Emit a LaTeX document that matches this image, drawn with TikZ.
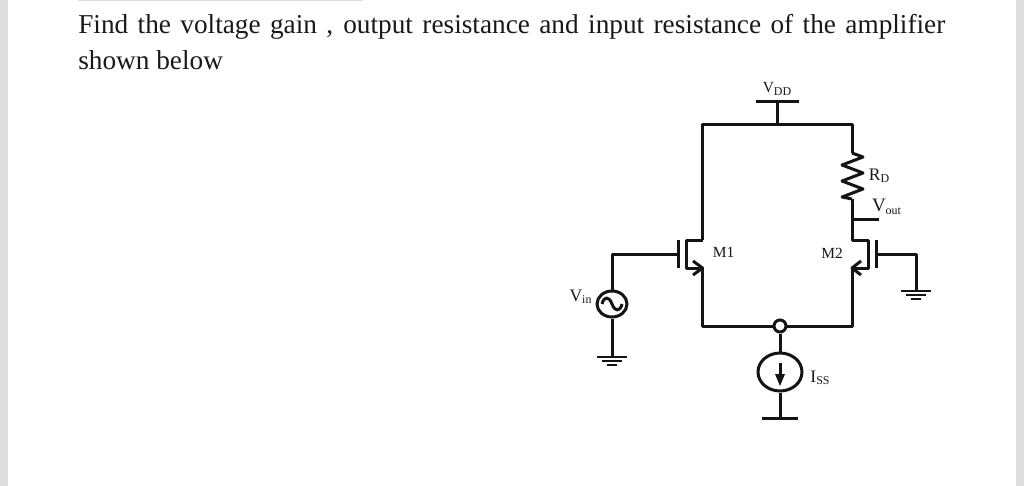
\documentclass[tikz,border=0pt]{standalone}
\usepackage{xcolor}
\usepackage{fontspec}
\setmainfont{Liberation Serif}
\usetikzlibrary{shapes.geometric}
\definecolor{AmpWire}{RGB}{20, 20, 20}
\definecolor{AmpText}{RGB}{25, 25, 25}
\definecolor{AmpEdge}{RGB}{222, 222, 222}
\newcommand{\sublabel}[2]{#1\raisebox{-0.3ex}{\fontsize{8.5}{10}\selectfont #2}}
\tikzset{
    wire/.style={draw=AmpWire, line width=0.75mm, line join=round},
    thinbar/.style={draw=AmpWire, line width=0.55mm},
    source/.style={ellipse, draw=AmpWire, line width=0.75mm, fill=white, inner sep=0pt,
        minimum width=#1},
    lbl/.style={text=AmpText, inner sep=0pt, font=\fontsize{12.5}{14}\selectfont},
}

\begin{document}
\begin{tikzpicture}[x=0.25mm, y=-0.25mm]
    \useasboundingbox (0,0) rectangle (1024,486);

    % Page edges
    \fill[AmpEdge] (0,0) rectangle (8,486);
    \fill[AmpEdge] (1016,0) rectangle (1024,486);
    \draw[AmpEdge, line width=0.3mm] (78,0.5) -- (363,0.5);

    % Question text
    \node[anchor=north west, inner sep=0pt, text=AmpText, text width=216.75mm, align=justify,
        font=\fontsize{19.4}{25.6}\selectfont] (question) at (78,14)
        {Find the voltage gain , output resistance and input resistance of the amplifier\linebreak shown below};

    % Rails
    \coordinate (topleft) at (702.5,124.5);
    \coordinate (tapdd) at (777.5,124.5);
    \coordinate (topright) at (852,124.5);
    \coordinate (vddbar) at (777.5,102);
    \coordinate (botleft) at (702.5,326);
    \coordinate (botright) at (852,326);

    % M1
    \coordinate (m1d) at (702.5,240);
    \coordinate (m1s) at (702.5,268);
    \coordinate (m1ch) at (686,254);
    \coordinate (m1g) at (678,254);

    % M2
    \coordinate (m2d) at (852,240);
    \coordinate (m2s) at (852,268);
    \coordinate (m2ch) at (868,254);
    \coordinate (m2g) at (876,254);

    % Bottom rail goes under the tail node
    \draw[wire] (m2s) -- (botright) -- (botleft) -- (m1s);

    % Sources
    \node[source=30*0.25mm, minimum height=26*0.25mm] (vin) at (612,304) {};
    \node[source=44*0.25mm, minimum height=38*0.25mm] (iss) at (780,372) {};
    \node[circle, draw=AmpWire, line width=0.75mm, fill=white, inner sep=0pt,
        minimum size=12*0.25mm] (tail) at (780,326) {};

    % Resistor ends and output
    \coordinate (rdtop) at (852,153);
    \coordinate (rdbot) at (852,199);
    \coordinate (vouttap) at (852,219);
    \coordinate (voutend) at (879,219);

    % Grounds
    \coordinate (gndin) at (612,357);
    \coordinate (gndm2) at (916,291);
    \coordinate (gndss) at (780,418);

    % Wires
    \draw[wire] (m1d) -- (topleft) -- (topright) -- (rdtop);
    \draw[wire] (tapdd) -- (vddbar);
    \draw[wire] (756,102) -- (799,102);
    \draw[wire] (rdtop) -- ++(11,4) -- ++(-21,8) -- ++(21,8) -- ++(-21,8) -- ++(21,8) -- ++(-21,8) -- (rdbot);
    \draw[wire] (rdbot) -- (m2d -| rdbot) -- (m2ch |- m2d) -- (m2ch |- m2s) -- (m2s);
    \draw[wire] (vouttap) -- (voutend);
    \draw[wire] (m1s) -- (m1ch |- m1s) -- (m1ch |- m1d) -- (m1d);
    \draw[wire] (vin.north) |- (m1g);
    \draw[wire] (m1g |- m1d) -- (m1g |- m1s);
    \draw[wire] (m2g |- m2d) -- (m2g |- m2s);
    \draw[wire] (m2g) -| (gndm2);
    \draw[wire] (vin.south) -- (gndin);
    \draw[wire] (tail) -- (iss.north);
    \draw[wire] (iss.south) -- (gndss);

    % Transistor arrows
    \draw[wire] (693,261) -- (m1s) -- (693,275);
    \draw[wire] (861,261) -- (m2s) -- (861,275);

    % Ground bars
    \draw[thinbar] (gndin) ++(-15,0) -- ++(30,0);
    \draw[thinbar] (gndin) ++(-10,4) -- ++(20,0);
    \draw[thinbar] (gndin) ++(-5,8) -- ++(10,0);
    \draw[thinbar] (gndm2) ++(-15,0) -- ++(30,0);
    \draw[thinbar] (gndm2) ++(-10,4) -- ++(20,0);
    \draw[thinbar] (gndm2) ++(-5,8) -- ++(10,0);
    \draw[wire] (gndss) ++(-18,0) -- ++(36,0);

    % Source symbols
    \draw[wire] (602,304) .. controls (604,296) and (609,296) .. (612,304)
        .. controls (615,312) and (620,312) .. (622,304);
    \draw[wire] (780,363) -- (780,376);
    \fill[AmpWire] (780,386) -- (775,374) -- (785,374) -- cycle;

    % Labels
    \node[lbl] (vinlabel) at (580.5,297) {\sublabel{V}{in}};
    \node[lbl, font=\fontsize{11}{13}\selectfont] (vddlabel) at (777,89) {\sublabel{V}{DD}};
    \node[lbl] (rdlabel) at (879,176) {\sublabel{R}{D}};
    \node[lbl, font=\fontsize{13.5}{15}\selectfont] (voutlabel) at (886.5,207) {\sublabel{V}{out}};
    \node[lbl, font=\fontsize{11}{13}\selectfont] (m1label) at (723.5,252.5) {M1};
    \node[lbl, font=\fontsize{11}{13}\selectfont] (m2label) at (832,253) {M2};
    \node[lbl] (isslabel) at (820,378) {\sublabel{I}{SS}};
\end{tikzpicture}
\end{document}
